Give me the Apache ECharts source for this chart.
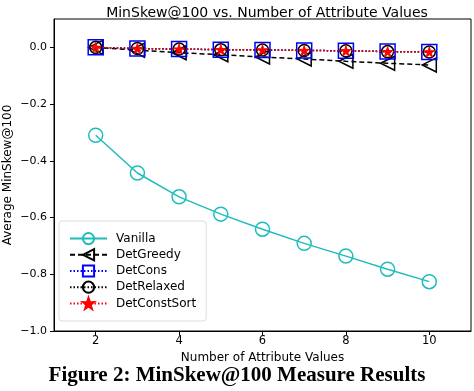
<!DOCTYPE html>
<html>
<head>
<meta charset="utf-8">
<script src="https://cdn.jsdelivr.net/npm/echarts@6/dist/echarts.min.js"></script>
<style>html,body{margin:0;padding:0;background:#fff}#c{width:474px;height:391px}</style>
</head>
<body>
<div id="c"></div>
<script>
const xValues = [2, 3, 4, 5, 6, 7, 8, 9, 10];
const vanilla = [-0.310, -0.443, -0.527, -0.588, -0.641, -0.691, -0.736, -0.782, -0.826];
const detGreedy = [0.0, -0.010, -0.019, -0.026, -0.034, -0.041, -0.049, -0.056, -0.062];
const detCons = [0.0, -0.004, -0.006, -0.008, -0.009, -0.011, -0.012, -0.015, -0.016];
const detRelaxed = [0.0, -0.004, -0.006, -0.008, -0.009, -0.011, -0.012, -0.015, -0.016];
const detConstSort = [0.0, -0.004, -0.006, -0.008, -0.009, -0.011, -0.012, -0.015, -0.016];
const xTicks = [2, 4, 6, 8, 10];
const yTicks = [-1.0, -0.8, -0.6, -0.4, -0.2, 0.0];

const FONT = 'DejaVu Sans';
const pair = arr => xValues.map((x, i) => [x, arr[i]]);
const star = 'path://M50,0 L61.8,35.3 L97.6,34.5 L69.1,56.9 L79.4,90.5 L50,70.5 L20.6,90.5 L30.9,56.9 L2.4,34.5 L38.2,35.3 Z';
const fmtY = v => (v < 0 ? '\u2212' : '') + Math.abs(v).toFixed(1);

const chart = echarts.init(document.getElementById('c'), null, {renderer: 'canvas'});
chart.setOption({
  animation: false,
  backgroundColor: '#fff',
  title: {
    text: 'MinSkew@100 vs. Number of Attribute Values',
    left: 262, top: 1, textAlign: 'center',
    textStyle: {fontFamily: FONT, fontSize: 14, fontWeight: 'normal', color: '#000'}
  },
  grid: {left: 54, right: 3, top: 19, bottom: 60, show: true, borderColor: '#000', borderWidth: 1,
         containLabel: false, outerBoundsMode: 'none'},
  xAxis: {
    type: 'value', min: 1, max: 11,
    name: 'Number of Attribute Values', nameLocation: 'middle', nameGap: 21, nameMoveOverlap: false,
    nameTextStyle: {fontFamily: FONT, fontSize: 12, color: '#000'},
    axisLine: {show: true, onZero: false, lineStyle: {color: '#000', width: 1}},
    axisTick: {show: true, length: 4, customValues: xTicks, lineStyle: {color: '#000'}},
    axisLabel: {customValues: xTicks, fontFamily: FONT, fontSize: 11.5, color: '#000', margin: 4},
    splitLine: {show: false}
  },
  yAxis: {
    type: 'value', min: -1.0, max: 0.1,
    name: 'Average MinSkew@100', nameLocation: 'middle', nameGap: 40, nameMoveOverlap: false,
    nameTextStyle: {fontFamily: FONT, fontSize: 12, color: '#000'},
    axisLine: {show: true, lineStyle: {color: '#000', width: 1}},
    axisTick: {show: true, length: 4, customValues: yTicks, lineStyle: {color: '#000'}},
    axisLabel: {customValues: yTicks, formatter: fmtY, fontFamily: FONT, fontSize: 11, color: '#000', margin: 7},
    splitLine: {show: false}
  },
  legend: {
    left: 59, top: 221, orient: 'vertical',
    itemWidth: 37, itemHeight: 14, itemGap: 3,
    padding: [11, 10, 11, 10],
    backgroundColor: '#fff', borderColor: '#ddd', borderWidth: 1, borderRadius: 3,
    textStyle: {fontFamily: FONT, fontSize: 12, color: '#000', padding: [0, 0, 0, 4]},
    data: ['Vanilla', 'DetGreedy', 'DetCons', 'DetRelaxed', 'DetConstSort']
  },
  series: [
    {name: 'Vanilla', type: 'line', data: pair(vanilla), symbol: 'circle', symbolSize: 14,
     lineStyle: {color: '#1fbcbc', width: 1.5},
     itemStyle: {color: 'rgba(0,0,0,0)', borderColor: '#1fbcbc', borderWidth: 1.5}, z: 2},
    {name: 'DetGreedy', type: 'line', data: pair(detGreedy), symbol: 'triangle', symbolRotate: 90, symbolSize: 14,
     lineStyle: {color: '#000', width: 1.5, type: [5, 3]},
     itemStyle: {color: 'rgba(0,0,0,0)', borderColor: '#000', borderWidth: 1.5}, z: 3},
    {name: 'DetCons', type: 'line', data: pair(detCons), symbol: 'rect', symbolSize: 15,
     lineStyle: {color: '#0000ff', width: 1.5, type: [1.5, 2]},
     itemStyle: {color: 'rgba(0,0,0,0)', borderColor: '#0000ff', borderWidth: 1.5}, z: 4},
    {name: 'DetRelaxed', type: 'line', data: pair(detRelaxed), symbol: 'circle', symbolSize: 12,
     lineStyle: {color: '#000', width: 1.5, type: [1.5, 2]},
     itemStyle: {color: 'rgba(0,0,0,0)', borderColor: '#000', borderWidth: 1.5}, z: 5},
    {name: 'DetConstSort', type: 'line', data: pair(detConstSort), symbol: star, symbolSize: 10,
     lineStyle: {color: '#ff0000', width: 1.5, type: [1.5, 2]},
     itemStyle: {color: '#ff0000', borderColor: '#ff0000', borderWidth: 1}, z: 6}
  ],
  graphic: [{
    type: 'text', left: 'center', top: 365,
    style: {text: 'Figure 2: MinSkew@100 Measure Results', fontFamily: 'Liberation Serif', fontWeight: 'bold', fontSize: 21, fill: '#000'}
  }]
});
</script>
</body>
</html>
